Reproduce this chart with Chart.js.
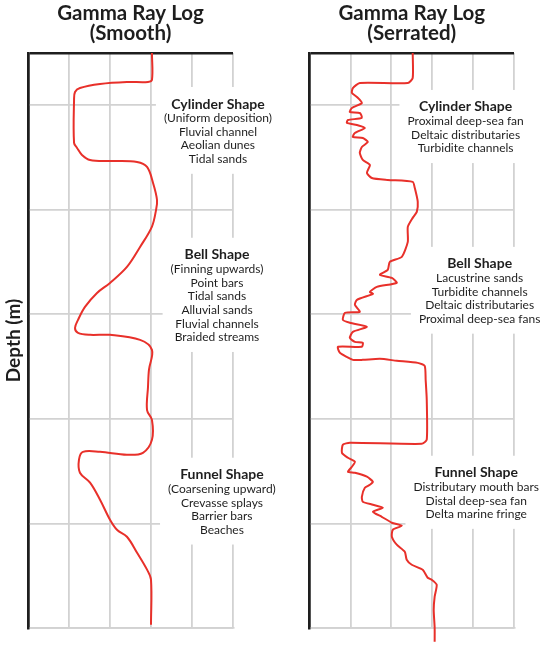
<!DOCTYPE html>
<html>
<head>
<meta charset="utf-8">
<script src="https://cdn.jsdelivr.net/npm/chart.js@4.4.1/dist/chart.umd.min.js"></script>
<style>
  body { margin: 0; background: #fff; }
  #wrap { position: relative; width: 550px; height: 646px; }
  .panel { position: absolute; top: 0; height: 646px; }
  #left { left: 0; width: 290px; }
  #right { left: 275px; width: 275px; }
</style>
</head>
<body>
<div id="wrap">
  <div class="panel" id="left"><canvas id="smoothLog"></canvas></div>
  <div class="panel" id="right"><canvas id="serratedLog"></canvas></div>
</div>
<script>
// gamma ray reading (API) against depth (m)
const smoothDepth = [5.0, 7.58, 7.77, 7.77, 7.96, 8.35, 8.73, 9.49, 13.6, 14.08, 14.75, 15.23, 15.33, 15.42, 15.9,
  17.43, 19.06, 20.0, 21.6, 23.55, 25.46, 26.99, 27.95, 29.29, 30.53, 31.3, 31.77, 31.96, 31.96, 32.44, 33.4,
  35.3, 36.95, 39.15, 40.1, 42.0, 43.24, 43.43, 43.15, 43.15, 43.9, 45.15, 46.1, 47.73, 49.64, 50.6, 51.27,
  52.8, 54.42, 55.38, 59.68];
const smoothGamma = [90.7, 90.7, 87.8, 72.4, 52.7, 38.0, 34.4, 33.7, 33.7, 35.9, 39.5, 45.4, 60.0, 79.8, 87.1,
  91.5, 94.4, 93.7, 90.7, 82.0, 72.4, 60.0, 50.5, 41.7, 36.6, 34.4, 36.6, 45.4, 60.0, 82.0, 90.7,
  88.5, 87.8, 87.1, 90.7, 90.7, 84.1, 72.4, 52.7, 40.2, 37.3, 38.0, 45.4, 52.7, 60.0, 65.1, 72.4,
  79.8, 87.1, 90.0, 90.0];

const serratedDepth = [5.0, 7.39, 7.87, 7.87, 8.35, 8.82, 9.21, 9.78, 10.26, 10.64, 10.74, 11.21, 11.41, 11.69,
  11.88, 12.17, 12.65, 13.03, 13.13, 13.51, 13.99, 14.56, 15.23, 15.71, 16.47, 16.95, 17.14, 17.33, 17.9,
  19.24, 20.2, 20.77, 21.63, 23.07, 24.5, 24.98, 25.75, 26.22, 26.51, 26.99, 27.37, 27.85, 28.04, 28.61,
  29.09, 29.76, 29.86, 30.53, 30.81, 31.19, 31.67, 32.25, 32.63, 32.72, 33.1, 33.1, 33.68, 34.35, 34.35,
  34.25, 34.44, 34.64, 34.92, 36.26, 38.17, 41.99, 42.38, 42.28, 42.47, 43.24, 43.72, 44.1, 44.58, 45.06,
  45.15, 45.53, 46.01, 46.3, 46.59, 47.45, 47.92, 48.21, 48.5, 48.88, 49.36, 49.93, 50.22, 50.6, 51.27,
  52.03, 52.7, 53.47, 53.95, 54.42, 55.19, 55.38, 55.86, 57.01, 58.25, 59.97, 61.31];
const serratedGamma = [75.7, 75.7, 72.1, 36.9, 31.8, 31.1, 34.8, 38.4, 31.1, 29.6, 36.9, 38.4, 28.2, 27.4,
  34.8, 40.6, 33.3, 31.8, 39.1, 42.8, 38.4, 36.9, 39.1, 44.3, 42.1, 45.7, 57.4, 75.7, 77.2,
  79.4, 78.7, 75.7, 72.1, 72.1, 67.7, 58.9, 57.4, 51.6, 60.4, 64.0, 49.4, 44.3, 46.5, 34.8,
  33.3, 36.9, 26.0, 24.5, 29.6, 42.1, 31.8, 29.6, 33.3, 39.1, 38.4, 20.9, 22.3, 31.8, 39.1,
  51.6, 64.0, 79.4, 84.5, 85.2, 86.0, 86.0, 82.3, 29.6, 24.5, 23.8, 28.2, 33.3, 31.1, 28.2,
  33.3, 42.1, 46.5, 44.3, 40.6, 38.4, 39.1, 46.5, 53.8, 46.5, 53.0, 60.4, 67.7, 61.1, 60.4,
  64.0, 69.9, 71.3, 75.0, 83.0, 86.7, 89.6, 93.3, 91.8, 91.1, 91.8, 91.8];

const gammaTicks = [0, 30, 60, 90, 120, 150];
const depthTicks = [5, 10, 20, 30, 40, 50, 60];

const smoothNotes = [
  ['Cylinder Shape', '(Uniform deposition)', 'Fluvial channel', 'Aeolian dunes', 'Tidal sands'],
  ['Bell Shape', '(Finning upwards)', 'Point bars', 'Tidal sands', 'Alluvial sands', 'Fluvial channels', 'Braided streams'],
  ['Funnel Shape', '(Coarsening upward)', 'Crevasse splays', 'Barrier bars', 'Beaches']
];
const serratedNotes = [
  ['Cylinder Shape', 'Proximal deep-sea fan', 'Deltaic distributaries', 'Turbidite channels'],
  ['Bell Shape', 'Lacustrine sands', 'Turbidite channels', 'Deltaic distributaries', 'Proximal deep-sea fans'],
  ['Funnel Shape', 'Distributary mouth bars', 'Distal deep-sea fan', 'Delta marine fringe']
];

const FONT = 'Lato, "Noto Sans", sans-serif';
const DARK = '#1e1e1e';
const GRID = '#d2d2d2';
const RED = '#e8302a';

// white-backed text blocks, anchored in data units
const notesPlugin = {
  id: 'notes',
  afterDatasetsDraw(chart) {
    const cfg = chart.options.plugins.notes;
    if (!cfg) return;
    const ctx = chart.ctx;
    const xs = chart.scales.x, ys = chart.scales.y;
    ctx.save();
    ctx.textAlign = 'center';
    ctx.textBaseline = 'middle';
    cfg.blocks.forEach((b, bi) => {
      const lines = cfg.lines[bi];
      const cx = xs.getPixelForValue(b.x);
      const cy = ys.getPixelForValue(b.y);
      let w = 0;
      lines.forEach((t, i) => {
        ctx.font = (i === 0 ? 'bold 14px ' : '12px ') + FONT;
        w = Math.max(w, ctx.measureText(t).width);
      });
      const h = (lines.length - 1) * 13.7;
      ctx.fillStyle = '#fff';
      ctx.fillRect(cx - w / 2 - 8, cy - 17, w + 16, h + 32);
      ctx.fillStyle = DARK;
      lines.forEach((t, i) => {
        ctx.font = (i === 0 ? 'bold 14px ' : '12px ') + FONT;
        ctx.fillText(t, cx, cy + i * 13.7 + (i > 0 ? 0.5 : 0));
      });
    });
    ctx.restore();
  }
};

function makeLog(canvasId, title, depth, gamma, notes, blocks, opts) {
  const points = depth.map((d, i) => ({ x: gamma[i], y: d }));
  return new Chart(document.getElementById(canvasId), {
    type: 'line',
    data: {
      datasets: [{
        data: points,
        borderColor: RED,
        borderWidth: 2,
        pointRadius: 0,
        tension: opts.tension,
        clip: false,
        fill: false
      }]
    },
    options: {
      responsive: true,
      maintainAspectRatio: false,
      animation: false,
      layout: { padding: { left: 0, right: opts.padRight, top: 0, bottom: 18 } },
      plugins: {
        legend: { display: false },
        tooltip: { enabled: false },
        title: {
          display: true,
          text: title,
          fullSize: false,
          color: DARK,
          font: { family: FONT, size: 20.5, weight: 'bold', lineHeight: 1.0 },
          padding: { top: 3, bottom: 9 }
        },
        notes: { blocks: blocks, lines: notes }
      },
      scales: {
        x: {
          type: 'linear',
          min: 0, max: 150,
          afterBuildTicks: s => { s.ticks = gammaTicks.map(v => ({ value: v })); },
          afterFit: s => { s.height = 0; },
          ticks: { display: false },
          grid: {
            drawTicks: false,
            color: c => c.tick && c.tick.value === 0 ? DARK : GRID,
            lineWidth: c => c.tick && c.tick.value === 0 ? 2.5 : 1.8
          },
          border: { display: true, color: GRID, width: 1.8 }
        },
        y: {
          type: 'linear',
          reverse: true,
          min: 5, max: 60,
          afterBuildTicks: s => { s.ticks = depthTicks.map(v => ({ value: v })); },
          afterFit: s => { s.width = opts.axisWidth; },
          ticks: { display: false },
          title: {
            display: opts.showTitle,
            text: 'Depth (m)',
            color: DARK,
            font: { family: FONT, size: 19, weight: 'bold' },
            padding: { top: 2, bottom: 0 }
          },
          grid: {
            drawTicks: false,
            color: c => c.tick && c.tick.value === 5 ? DARK : GRID,
            lineWidth: c => c.tick && c.tick.value === 5 ? 2.5 : 1.8
          },
          border: { display: true, color: DARK, width: 2.5 }
        }
      }
    },
    plugins: [notesPlugin]
  });
}

makeLog('smoothLog', ['Gamma Ray Log', '(Smooth)'], smoothDepth, smoothGamma, smoothNotes,
  [{ x: 139.0, y: 9.88 }, { x: 138.3, y: 24.3 }, { x: 141.9, y: 45.34 }],
  { tension: 0.35, padRight: 57, axisWidth: 28, showTitle: true });

makeLog('serratedLog', ['Gamma Ray Log', '(Serrated)'], serratedDepth, serratedGamma, serratedNotes,
  [{ x: 114.5, y: 10.16 }, { x: 124.8, y: 25.17 }, { x: 122.3, y: 45.15 }],
  { tension: 0.2, padRight: 36, axisWidth: 34.5, showTitle: false });
</script>
</body>
</html>
